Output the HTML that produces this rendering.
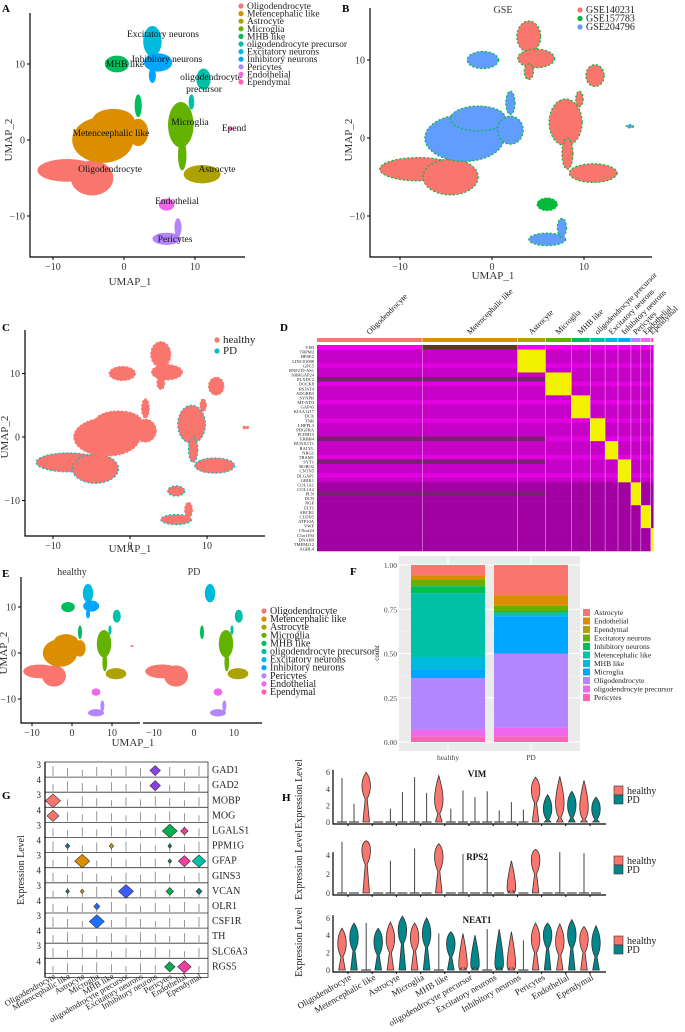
<!DOCTYPE html>
<html><head><meta charset="utf-8"><style>
html,body{margin:0;padding:0;background:#fff;width:685px;height:1032px;overflow:hidden}
svg{display:block;font-family:"Liberation Serif",serif}
</style></head><body>
<svg id="fig" width="685" height="1032" viewBox="0 0 685 1032" xmlns="http://www.w3.org/2000/svg"></svg>
<script>
// ---------- DATA ----------
const clusters=["Oligodendrocyte","Metencephalic like","Astrocyte","Microglia","MHB like","oligodendrocyte precursor","Excitatory neurons","Inhibitory neurons","Pericytes","Endothelial","Ependymal"];
const clusterColors=["#F8766D","#DB8E00","#AEA200","#64B200","#00BD5C","#00C1A7","#00BADE","#00A6FF","#B385FF","#EF67EB","#FF63B6"];
const blobCluster=[0,0,1,1,1,4,4,6,7,7,5,5,3,3,2,9,8,8,10];
const blobX=[-8,-4.5,-3,-1.5,2,2,-1,4,4.8,4,11.2,9.5,8,8.2,11,6,6,7.6,15];
const blobY=[-4,-5,0,2.5,1,4.5,10,13,10.2,8.5,8,5,2,-2,-4.5,-8.5,-13,-11.5,1.5];
const blobRX=[4.2,3,4.3,3,1.4,0.5,1.7,1.3,2,0.5,1,0.4,1.8,0.6,2.6,1.1,2,0.5,0.4];
const blobRY=[1.5,2.3,3,1.6,1.8,1.5,1.1,2,1.2,1,1.4,1,3,2,1.2,0.8,0.8,1.2,0.2];
const bColors=["#F8766D","#F8766D","#619CFF","#619CFF","#619CFF","#619CFF","#619CFF","#F8766D","#F8766D","#F8766D","#F8766D","#F8766D","#F8766D","#F8766D","#F8766D","#00BA38","#619CFF","#619CFF","#619CFF"];
const pdBlobs=[1,1,0,0,0,1,0,1,0,0,1,1,1,1,1,1,1,1,0];
const fCats=["Astrocyte","Endothelial","Ependymal","Excitatory neurons","Inhibitory neurons","Metencephalic like","MHB like","Microglia","Oligodendrocyte","oligodendrocyte precursor","Pericytes"];
const fColors=["#F8766D","#DB8E00","#AEA200","#64B200","#00BD5C","#00C1A7","#00BADE","#00A6FF","#B385FF","#EF67EB","#FF63B6"];
const fHealthy=[0.06,0.02,0.0,0.04,0.04,0.36,0.07,0.05,0.29,0.04,0.03];
const fPD=[0.17,0.06,0.0,0.03,0.01,0.01,0.01,0.21,0.42,0.05,0.03];
const fTicks=["0.00","0.25","0.50","0.75","1.00"];
const dCounts=[106,96,28,26,19,15,13,13,10,10,3];
const dColOrder=[0,1,2,3,4,5,6,7,8,9,10];
const dGenes=["VIM","TRPM3","HPSE2","LINC01088","GPC5","RNF219-AS1","ARHGAP24","PLXDC2","DOCK8","HS3ST4","ADGRB3","SYNPR","MT-ND3","GAP43","KIAA1217","DCX","TNR","LHFPL3","PDGFRA","PCDH15","ERBB4","RUNX1T1","RALYL","NRG1","TRAM1","SYT1","ROBO2","CNTN5","DLGAP1","GRIK1","COL1A1","COL1A2","PLN","DCN","NGF","FLT1","ABCB1","CLDN5","ATP10A","VWF","C9orf24","C1orf194","DNAH9","TMEM212","AGBL4"];
const dGeneCluster=[-1,2,2,2,2,2,3,3,3,3,3,4,4,4,4,4,5,5,5,5,5,6,6,6,6,7,7,7,7,7,8,8,8,8,8,9,9,9,9,9,10,10,10,10,10];
const dDarkRows=[7,20,25,32];
const gGenes=["GAD1","GAD2","MOBP","MOG","LGALS1","PPM1G","GFAP","GINS3","VCAN","OLR1","CSF1R","TH","SLC6A3","RGS5"];
// violins in G: gene row, column, size, colour
const gvRow=[0,1,2,3,4,4,5,5,5,6,6,6,6,8,8,8,8,8,9,10,13,13];
const gvCol=[7,7,0,0,8,9,1,4,8,2,8,9,10,1,2,5,8,10,3,3,8,9];
const gvSize=[0.7,0.7,1,0.8,1,0.5,0.3,0.3,0.25,1,0.25,0.8,0.9,0.25,0.25,1,0.5,0.4,0.4,1,0.7,0.9];
const gvColor=["#8B3FE6","#8B3FE6","#F8766D","#F8766D","#00B050","#E8409A","#0E7A80","#B8A000","#0E7A80","#DB8E00","#0E7A80","#EF3FA0","#00BFA8","#0E7A80","#DB8E00","#3C5BFF","#00B050","#0E7A80","#1E6FFF","#1E6FFF","#00B050","#EF3FA0"];
const hGroups=clusters;
const vimH=[0,4.3,0,0,2.5,0,0,0,3.8,2,1.5];
const vimHmax=[5.3,6,1.6,5.4,5.6,3.8,3.7,2.4,5.4,5.5,5];
const vimP=[0,0,0,0,0,0,0,0,1.5,2,1.5];
const vimPmax=[2.2,0,3.6,3.5,1.6,3,1.4,1.5,3.3,3.7,3];
const rpsH=[0,4.5,0,0,3.8,0,0,0.1,3.5,0,0];
const rpsHmax=[5.4,5.5,3.4,4.7,5.2,4.1,3.7,3.4,4.6,4.3,4.2];
const neatH=[3,0,3.5,3.7,0,0.1,0,0.1,3.5,3.2,3.5];
const neatHmax=[4.8,5.4,5.5,5.4,4.2,4.2,4.7,4.4,5.4,5.3,5];
const neatP=[3.7,3.2,4.5,4.1,3,0.2,0.2,0,4,4,3];
const neatPmax=[5.4,4.8,6.2,6,4.4,4,4.7,3.4,5.4,5.8,5.1];

// ---------- HELPERS ----------
const NS="http://www.w3.org/2000/svg";
const svg=document.getElementById('fig');
function mk(tag,attrs,parent){const e=document.createElementNS(NS,tag);for(const k in attrs)e.setAttribute(k,attrs[k]);(parent||svg).appendChild(e);return e;}
function txt(s,x,y,size,attrs,parent){const e=mk('text',Object.assign({x:x,y:y,'font-size':size},attrs||{}),parent);e.textContent=s;return e;}
function panelLabel(s,x,y){const t=txt(s,x,y,11,{'font-weight':'bold'});

}

function umap(name,ox,oy,sx,sy,colorFn,filterFn,strokeFn){
  const g=mk('g',{});
  
  
  for(let i=0;i<blobX.length;i++){
    if(filterFn && !filterFn(i)) continue;
    const e=mk('ellipse',{cx:ox+blobX[i]*sx,cy:oy-blobY[i]*sy,rx:blobRX[i]*sx,ry:blobRY[i]*sy,fill:colorFn(i)},g);
    if(strokeFn){e.setAttribute('stroke',strokeFn(i));e.setAttribute('stroke-width',1.2);e.setAttribute('stroke-dasharray','2 2');}
    
    
  }
  return g;
}
function axes(name,x0,y0,x1,y1){
  const g=mk('g',{stroke:'#000','stroke-width':1.2,fill:'none'});
  
  
  mk('path',{d:`M${x0},${y0}V${y1}H${x1}`},g);
}
function ticksXY(ox,oy,sx,sy,vx,vy,x0,y1){
  vx.forEach(v=>{const px=ox+v*sx;mk('line',{x1:px,x2:px,y1:y1,y2:y1+3,stroke:'#000'});
    const t=txt(v<0?'−'+(-v):String(v),px,y1+13,10,{'text-anchor':'middle',fill:'#333'});
    
    });
  vy.forEach(v=>{const py=oy-v*sy;mk('line',{x1:x0-3,x2:x0,y1:py,y2:py,stroke:'#000'});
    const t=txt(v<0?'−'+(-v):String(v),x0-5,py+3.5,10,{'text-anchor':'end',fill:'#333'});
    
    });
}
function axTitles(xs,xx,xy,ys,yx,yy){
  let t=txt(xs,xx,xy,11,{'text-anchor':'middle',fill:'#333'});
  
  
  t=txt(ys,yx,yy,11,{'text-anchor':'middle',fill:'#333',transform:`rotate(-90 ${yx} ${yy})`});
  
  
}
function legend(name,items,colors,x,y,dy,size){
  const g=mk('g',{});
  
  
  items.forEach((s,i)=>{
    const c=mk('circle',{cx:x,cy:y+i*dy-3,r:2.6,fill:colors[i]},g);
    
    
    const t=txt(s,x+6,y+i*dy,size,{fill:'#222'},g);
    
    
  });
}

// Panel A
panelLabel('A',2,12);
umap('umap-clusters',124,140,7.1,7.6,i=>clusterColors[blobCluster[i]]);
axes('axes-a',30,13,245,257);
ticksXY(124,140,7.1,7.6,[-10,0,10],[10,0,-10],30,257);
axTitles('UMAP_1',130,285,'UMAP_2',12,140);
[["Excitatory neurons",163,37],["Inhibitory neurons",167,62],["MHB like",125,67],["oligodendrocyte",211,80],["precursor",204,92],["Microglia",190,125],["Metenceephalic like",111,136],["Epend",234,131],["Oligodendrocyte",110,172],["Astrocyte",217,172],["Endothelial",177,204],["Pericytes",175,242]].forEach(a=>{
  const t=txt(a[0],a[1],a[2],9.5,{'text-anchor':'middle',fill:'#111'});
  
  });
legend('legend-a',clusters,clusterColors,241,9,7.6,9.5);

// Panel B
panelLabel('B',342,12);
umap('umap-datasets',492,138,9.2,7.8,i=>bColors[i],null,()=>'#00BA38');
axes('axes-b',370,8,652,257);
ticksXY(492,138,9.2,7.8,[-10,0,10],[10,0,-10],370,257);
axTitles('UMAP_1',493,279,'UMAP_2',352,140);
let tt=txt('GSE',503,13,10,{'text-anchor':'middle',fill:'#333'});


legend('legend-b',["GSE140231","GSE157783","GSE204796"],["#F8766D","#00BA38","#619CFF"],580,13,8.5,10);

// Panel C
panelLabel('C',2,331);
umap('umap-condition',130,437,7.7,6.35,()=>'#F8766D',null,i=>[0,1,12,13,14,15,16].includes(i)?'#00BFC4':'#F8766D');
axes('axes-c',25,330,265,536);
ticksXY(130,437,7.7,6.35,[-10,0,10],[10,0,-10],25,536);
axTitles('UMAP_1',130,552,'UMAP_2',8,437);
legend('legend-c',["healthy","PD"],["#F8766D","#00BFC4"],217,343,11,11);

// Panel D heatmap
panelLabel('D',280,331);
(function(){
  const g=mk('g',{});
  
  
  const x0=317,x1=654,y0=345,y1=551;
  const total=dCounts.reduce((a,b)=>a+b,0);
  const rh=(y1-y0)/dGenes.length;
  let cx=x0;
  dColOrder.forEach(ci=>{
    const w=dCounts[ci]/total*(x1-x0);
    const bar=mk('rect',{x:cx,y:338,width:w-0.6,height:4,fill:clusterColors[ci]},g);
    
    
    const lx=cx+w/2, ly=335;
    const t=txt(clusters[ci],lx,ly,8,{fill:'#111',transform:`rotate(-45 ${lx} ${ly})`},g);
    
    
    dGenes.forEach((gn,ri)=>{
      const on=dGeneCluster[ri]===ci;
      let col=ri>=30?'#A300A3':(ri%4===0?'#E000E0':'#C600C6');
      if(ri===0) col=ci===1?'#5a3a20':'#F000F0';
      if(dDarkRows.includes(ri) && ci<3) col='#7a2070';
      if(on) col='#F2F200';
      const c=mk('rect',{x:cx,y:y0+ri*rh,width:w,height:rh+0.3,fill:col},g);
      
      
    });
    mk('line',{x1:cx+w,x2:cx+w,y1:y0,y2:y1,stroke:'#fff','stroke-width':0.8},g);
    cx+=w;
  });
  dGenes.forEach((gn,ri)=>{
    const t=txt(gn,314,y0+ri*rh+rh-0.5,4.5,{'text-anchor':'end',fill:'#222'},g);
    
    
  });
})();

// Panel E
panelLabel('E',2,577);
let t1=txt('healthy',72,575,10,{'text-anchor':'middle',fill:'#333'});


t1=txt('PD',194,575,10,{'text-anchor':'middle',fill:'#333'});


umap('umap-healthy',72,653,4.0,4.6,i=>clusterColors[blobCluster[i]]);
umap('umap-pd',194,653,4.0,4.6,i=>clusterColors[blobCluster[i]],i=>pdBlobs[i]);
axes('axes-e-healthy',21,577,140,723);
mk('line',{x1:143,x2:262,y1:723,y2:723,stroke:'#000','stroke-width':1.2});
ticksXY(72,653,4.0,4.6,[-10,0,10],[10,0,-10],21,723);
[-10,0,10].forEach(v=>{const t=txt(v<0?'−10':String(v),194+v*4,736,10,{'text-anchor':'middle',fill:'#333'});

});
axTitles('UMAP_1',133,746,'UMAP_2',7,653);
legend('legend-e',clusters,clusterColors,264,614,8.1,10);

// Panel F
panelLabel('F',350,575);
(function(){
  const g=mk('g',{});
  
  
  mk('rect',{x:399,y:556,width:181,height:195,fill:'#EBEBEB'},g);
  const yS=v=>742-v*177;
  fTicks.forEach(s=>{const v=parseFloat(s);mk('line',{x1:399,x2:580,y1:yS(v),y2:yS(v),stroke:'#fff','stroke-width':0.9},g);
    const t=txt(s,397,yS(v)+3,7.5,{'text-anchor':'end',fill:'#444'},g);
    
    });
  [0.125,0.375,0.625,0.875].forEach(v=>mk('line',{x1:399,x2:580,y1:yS(v),y2:yS(v),stroke:'#F5F5F5','stroke-width':0.5},g));
  [[fHealthy,448,'healthy'],[fPD,531,'PD']].forEach(b=>{
    mk('line',{x1:b[1],x2:b[1],y1:556,y2:751,stroke:'#fff'},g);
    let top=1;
    b[0].forEach((v,i)=>{
      const r=mk('rect',{x:b[1]-37,y:yS(top),width:74,height:v*177,fill:fColors[i]},g);
      
      
      top-=v;
    });
    const t=txt(b[2],b[1],760,7.5,{'text-anchor':'middle',fill:'#444'},g);
    
    
  });
  const yt=txt('count',379,653,7,{'text-anchor':'middle',fill:'#222',transform:'rotate(-90 379 653)'},g);
  
  
  fCats.forEach((s,i)=>{
    const r=mk('rect',{x:583,y:609+i*8.5,width:7,height:7,fill:fColors[i]},g);
    
    
    const t=txt(s,594,615+i*8.5,7.5,{fill:'#222'},g);
    
    
  });
})();

// Panel G stacked violins
panelLabel('G',2,799);
(function(){
  const g=mk('g',{});
  
  
  const x0=45,x1=208,top=762,rh=15.1;
  const colX=i=>53+i*14.6;
  gGenes.forEach((gn,r)=>{
    const yb=top+(r+1)*rh;
    mk('line',{x1:x0,x2:x1,y1:yb,y2:yb,stroke:'#333','stroke-width':0.8},g);
    clusters.forEach((c,ci)=>{
      const ln=mk('line',{x1:colX(ci),x2:colX(ci),y1:yb-1,y2:yb-rh+4+((ci*7+r*3)%5),stroke:'#555','stroke-width':0.6},g);
      
      
    });
    const t=txt(gn,212,yb-rh/2+3.5,10,{fill:'#222'},g);
    
    
    const tk=txt(r%2?'4':'3',41,top+r*rh+6,9,{'text-anchor':'end',fill:'#222'},g);
    
    
  });
  gvRow.forEach((r,k)=>{
    const yb=top+(r+1)*rh;
    const cx=colX(gvCol[k]),s=gvSize[k],w=7.5*s,h=6*s+0.8,cy=yb-rh/2+1;
    const v=mk('path',{d:`M${cx},${cy-h}L${cx+w},${cy}L${cx},${cy+h}L${cx-w},${cy}Z`,fill:gvColor[k],stroke:'#333','stroke-width':0.6},g);
    
    
  });
  mk('rect',{x:x0,y:top,width:x1-x0,height:gGenes.length*rh+4,fill:'none',stroke:'#333','stroke-width':0.8},g);
  mk('line',{x1:x0,x2:x0,y1:top,y2:top+gGenes.length*rh+4,stroke:'#000','stroke-width':1.2},g);
  const yt=txt('Expression Level',24,870,10,{'text-anchor':'middle',fill:'#222',transform:'rotate(-90 24 870)'},g);
  
  
  clusters.forEach((s,i)=>{
    const x=colX(i)+3,y=978;
    const t=txt(s,x,y,8.5,{'text-anchor':'end',fill:'#222',transform:`rotate(-30 ${x} ${y})`},g);
    
    
  });
})();

// Panel H split violins
panelLabel('H',282,801);
function hPanel(name,title,base,unit,maxY,hMed,hMax,pMed,pMax,legY){
  const g=mk('g',{});
  
  
  const x0=333,x1=606;
  const gx=i=>348+i*24.2;
  const yS=v=>base-v*unit;
  mk('path',{d:`M${x0},${yS(maxY+0.3)}V${base+2}H${x1}`,fill:'none',stroke:'#000','stroke-width':1.2},g);
  for(let v=0;v<=maxY;v+=2){
    const t=txt(String(v),x0-3,yS(v)+3,8,{'text-anchor':'end',fill:'#333'},g);
    
    
  }
  hGroups.forEach((c,i)=>mk('line',{x1:gx(i),x2:gx(i),y1:base+2,y2:base+4,stroke:'#000'},g));
  const tt=txt(title,477,yS(maxY)+5,9,{'text-anchor':'middle','font-weight':'bold',fill:'#111'},g);
  
  
  const yt=txt('Expression Level',302,base-28,10,{'text-anchor':'middle',fill:'#222',transform:`rotate(-90 302 ${base-28})`},g);
  
  
  function violin(cx,med,mx,col){
    if(med<=0.05){
      mk('line',{x1:cx-5,x2:cx+5,y1:base,y2:base,stroke:'#444','stroke-width':1.2},g);
      if(mx>0) mk('line',{x1:cx,x2:cx,y1:base,y2:yS(mx),stroke:'#444','stroke-width':1},g);
      return;
    }
    const w=5.5;
    const d=`M${cx},${yS(mx)} C${cx+w},${yS(med+0.8)} ${cx+w},${yS(med-0.5)} ${cx+1},${yS(Math.max(med-1.5,0.3))} L${cx+w*0.6},${base} L${cx-w*0.6},${base} L${cx-1},${yS(Math.max(med-1.5,0.3))} C${cx-w},${yS(med-0.5)} ${cx-w},${yS(med+0.8)} ${cx},${yS(mx)}Z`;
    const v=mk('path',{d:d,fill:col,stroke:'#333','stroke-width':0.8},g);
    
    
  }
  hGroups.forEach((c,i)=>{
    violin(gx(i)-6,hMed[i],hMax[i],'#F8766D');
    violin(gx(i)+6,pMed?pMed[i]:0,pMax?pMax[i]:0,'#00868B');
  });
  [["healthy","#F8766D"],["PD","#00868B"]].forEach((l,i)=>{
    const r=mk('rect',{x:614,y:legY+i*9,width:9,height:9,fill:l[1],stroke:'#333','stroke-width':0.6},g);
    
    
    const t=txt(l[0],627,legY+i*9+8,10,{fill:'#222'},g);
    
    
  });
}
hPanel('violin-vim','VIM',822,8.3,6,vimH,vimHmax,vimP,vimPmax,786);
hPanel('violin-rps2','RPS2',893,9.5,4,rpsH,rpsHmax,null,null,856);
hPanel('violin-neat1','NEAT1',970,8.7,6,neatH,neatHmax,neatP,neatPmax,936);
hGroups.forEach((s,i)=>{
  const x=348+i*24.2+4,y=979;
  const t=txt(s,x,y,9,{'text-anchor':'end',fill:'#222',transform:`rotate(-30 ${x} ${y})`});
  
  
});
</script>
</body></html>
